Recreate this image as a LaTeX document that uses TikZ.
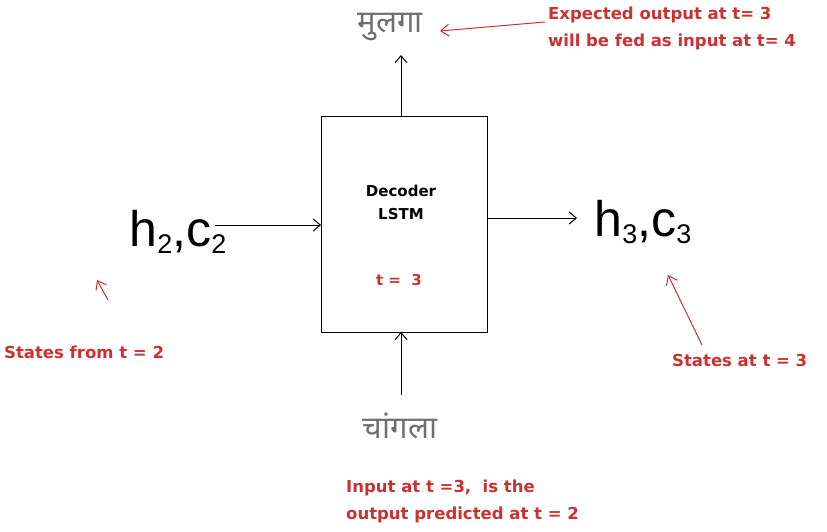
\documentclass[tikz,border=0pt]{standalone}
\usepackage{fontspec}
\setmainfont{Liberation Sans}
\newfontfamily\dv{DejaVu Sans}
\newfontfamily\deva[Script=Devanagari]{Noto Sans}
\definecolor{rd}{RGB}{204,48,48}
\definecolor{gy}{RGB}{110,110,110}
\usetikzlibrary{arrows.meta}
\begin{document}
\begin{tikzpicture}[x=1pt,y=-1pt,
  ar/.style={-{Straight Barb[length=7pt,width=12pt]},line width=1pt},
  rar/.style={-{Straight Barb[length=8pt,width=12pt]},line width=1pt,rd},
  note/.style={rd,font=\dv\bfseries\fontsize{16.5}{27}\selectfont,align=left,anchor=west,inner sep=1pt},
  dev/.style={gy,font=\deva\fontsize{31}{33}\selectfont},
  hw/.style={font=\fontsize{50}{52}\selectfont}]
\useasboundingbox (0,0) rectangle (827,532);
\node[draw,line width=1pt,minimum width=166pt,minimum height=215pt] (box) at (404,224.5) {};
\node[font=\dv\bfseries\fontsize{15}{23}\selectfont,align=center] (lbl) at (401,202) {Decoder\\LSTM};
\node[rd,font=\dv\bfseries\fontsize{15}{18}\selectfont] (t) at (399,280) {t =\ \ 3};
\node[dev] (out) at (390,27) {मुलगा};
\node[dev] (in) at (400,426) {चांगला};
\node[hw] (hl) at (178,232) {h\raisebox{-7pt}{\fontsize{27}{27}\selectfont 2},c\raisebox{-7pt}{\fontsize{27}{27}\selectfont 2}};
\node[hw] (hr) at (643,222) {h\raisebox{-7pt}{\fontsize{27}{27}\selectfont 3},c\raisebox{-7pt}{\fontsize{27}{27}\selectfont 3}};
\coordinate (bt) at (401,117);
\coordinate (bb) at (401,395);
\coordinate (lf) at (215,225);
\coordinate (rf) at (487,218);
\draw[ar] (bt) -- (401,55);
\draw[ar] (bb) -- (401,332);
\draw[ar] (lf) -- (321,225);
\draw[ar] (rf) -- (577,218);
\node[note] (n1) at (547,28) {Expected output at t= 3\\will be fed as input at t= 4};
\node[note] (n2) at (3,352) {States from t = 2};
\node[note] (n3) at (671,360) {States at t = 3};
\node[note] (n4) at (345,501) {Input at t =3,\ \ is the\\output predicted at t = 2};
\coordinate (a1) at (545,22);
\coordinate (a2) at (108,300);
\coordinate (a3) at (702,345);
\draw[rar] (a1) -- (440,31);
\draw[rar] (a2) -- (97,280);
\draw[rar] (a3) -- (668,275);
\end{tikzpicture}
\end{document}
